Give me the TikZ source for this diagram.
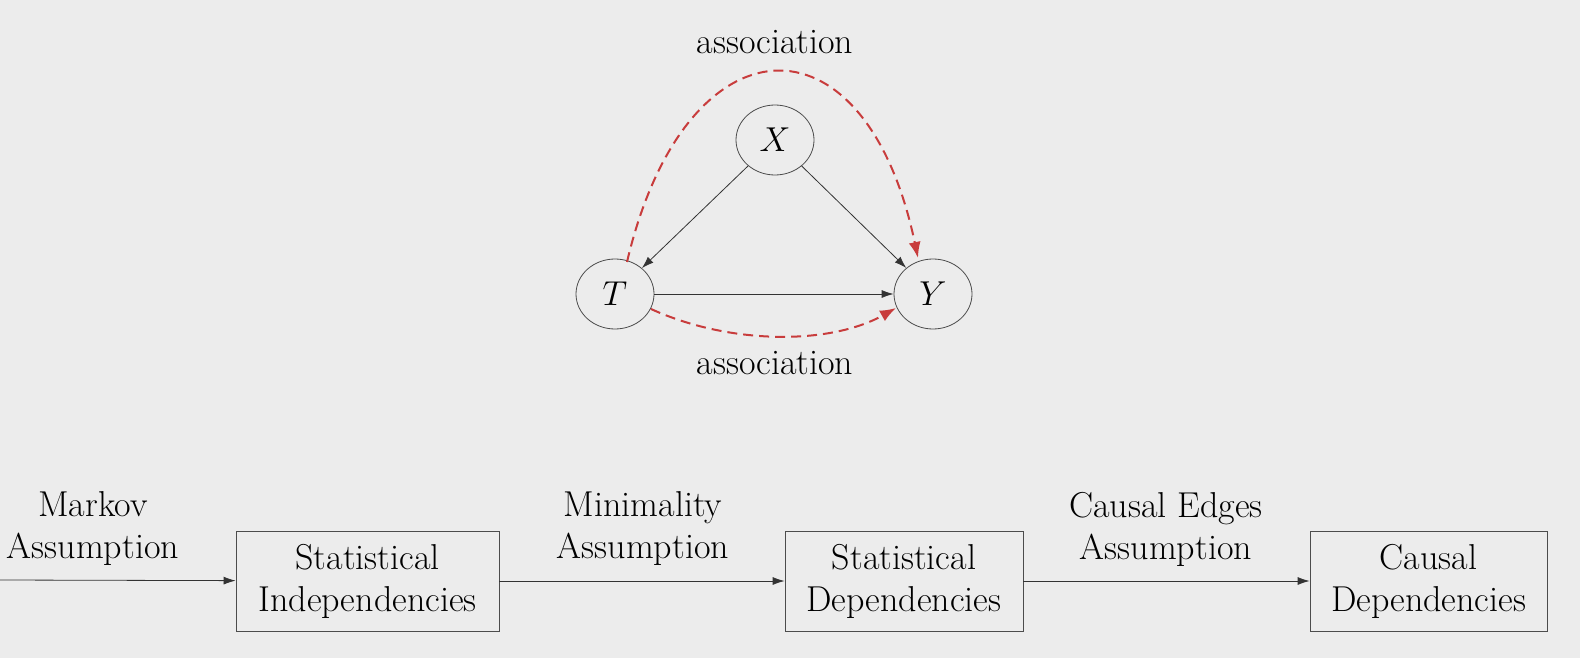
\documentclass[tikz,border=0pt]{standalone}
\usetikzlibrary{arrows.meta,shapes.geometric}
\begin{document}
\begin{tikzpicture}[x=0.5pt,y=-0.5pt,
  every node/.style={font=\fontsize{18}{21}\selectfont},
  var/.style={draw=black!70,ellipse,minimum width=39pt,minimum height=35pt,inner sep=0pt},
  box/.style={draw=black!70,minimum height=50pt,align=center,inner sep=0pt},
  arr/.style={-{Latex[length=6pt,width=4pt]},black!80,line width=0.4pt},
  red/.style={-{Latex[length=8pt,width=6pt]},draw={rgb,255:red,200;green,60;blue,60},line width=1pt,dash pattern=on 5pt off 3pt}]
\fill[gray!15] (0,0) rectangle (1580,658);
\useasboundingbox (0,0) rectangle (1580,658);
\node[var] (X) at (775,140) {$X$};
\node[var] (T) at (615,294) {$T$};
\node[var] (Y) at (933,294) {$Y$};
\draw[arr] (X) -- (T);
\draw[arr] (X) -- (Y);
\draw[arr] (T) -- (Y);
\draw[red] (627,262) .. controls (685,15) and (865,5) .. (918,258);
\draw[red] (651,309) .. controls (730,345) and (830,345) .. (896,308);
\node (a1) at (775,42) {association};
\node (a2) at (775,363) {association};
\node[box,minimum width=131.5pt] (S1) at (367.5,581) {Statistical\\Independencies};
\node[box,minimum width=119pt] (S2) at (904,581) {Statistical\\Dependencies};
\node[box,minimum width=118.5pt] (S3) at (1428.5,581) {Causal\\Dependencies};
\coordinate (L) at (0,580);
\draw[arr] (L) -- (S1);
\draw[arr] (S1) -- (S2);
\draw[arr] (S2) -- (S3);
\node[align=center] (m1) at (93,529) {Markov\\Assumption};
\node[align=center] (m2) at (643,529) {Minimality\\Assumption};
\node[align=center] (m3) at (1166,529) {Causal Edges\\Assumption};
\end{tikzpicture}
\end{document}
